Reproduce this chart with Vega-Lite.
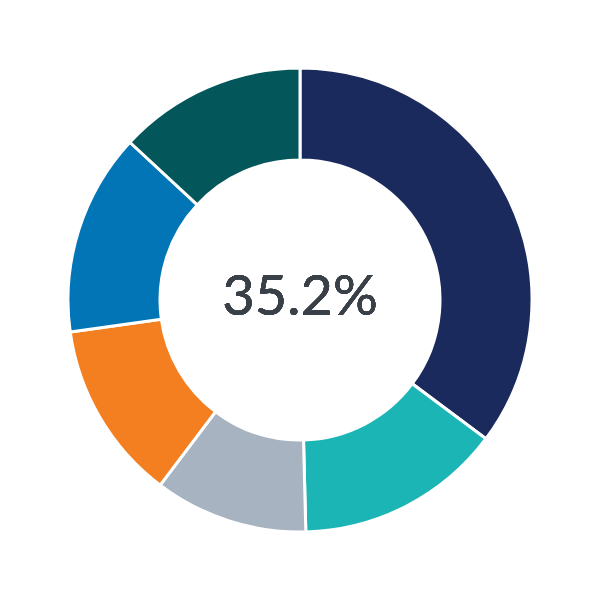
{
  "$schema": "https://vega.github.io/schema/vega-lite/v6.json",
  "description": "Donut chart with centre share",
  "width": 600,
  "height": 600,
  "padding": 0,
  "autosize": {"type": "fit", "contains": "padding"},
  "view": {"stroke": null},
  "data": {
    "values": [
      {"segment": "A", "rank": 1, "share": 35.2},
      {"segment": "B", "rank": 2, "share": 14.4},
      {"segment": "C", "rank": 3, "share": 10.7},
      {"segment": "D", "rank": 4, "share": 12.5},
      {"segment": "E", "rank": 5, "share": 14.1},
      {"segment": "F", "rank": 6, "share": 13.1}
    ]
  },
  "layer": [
    {
      "mark": {"type": "arc", "radius": 232, "radius2": 140, "stroke": "white", "strokeWidth": 3},
      "encoding": {
        "theta": {"field": "share", "type": "quantitative", "stack": true},
        "order": {"field": "rank", "type": "quantitative"},
        "color": {
          "field": "segment",
          "type": "nominal",
          "legend": null,
          "scale": {
            "domain": ["A", "B", "C", "D", "E", "F"],
            "range": ["#1b2a5c", "#1cb5b5", "#a8b3c1", "#f37f21", "#0175b5", "#03575a"]
          }
        }
      }
    },
    {
      "mark": {"type": "text", "text": "35.2%", "font": "Lato", "fontSize": 56, "color": "#3a4048", "baseline": "alphabetic", "dy": 15},
      "encoding": {}
    }
  ]
}
